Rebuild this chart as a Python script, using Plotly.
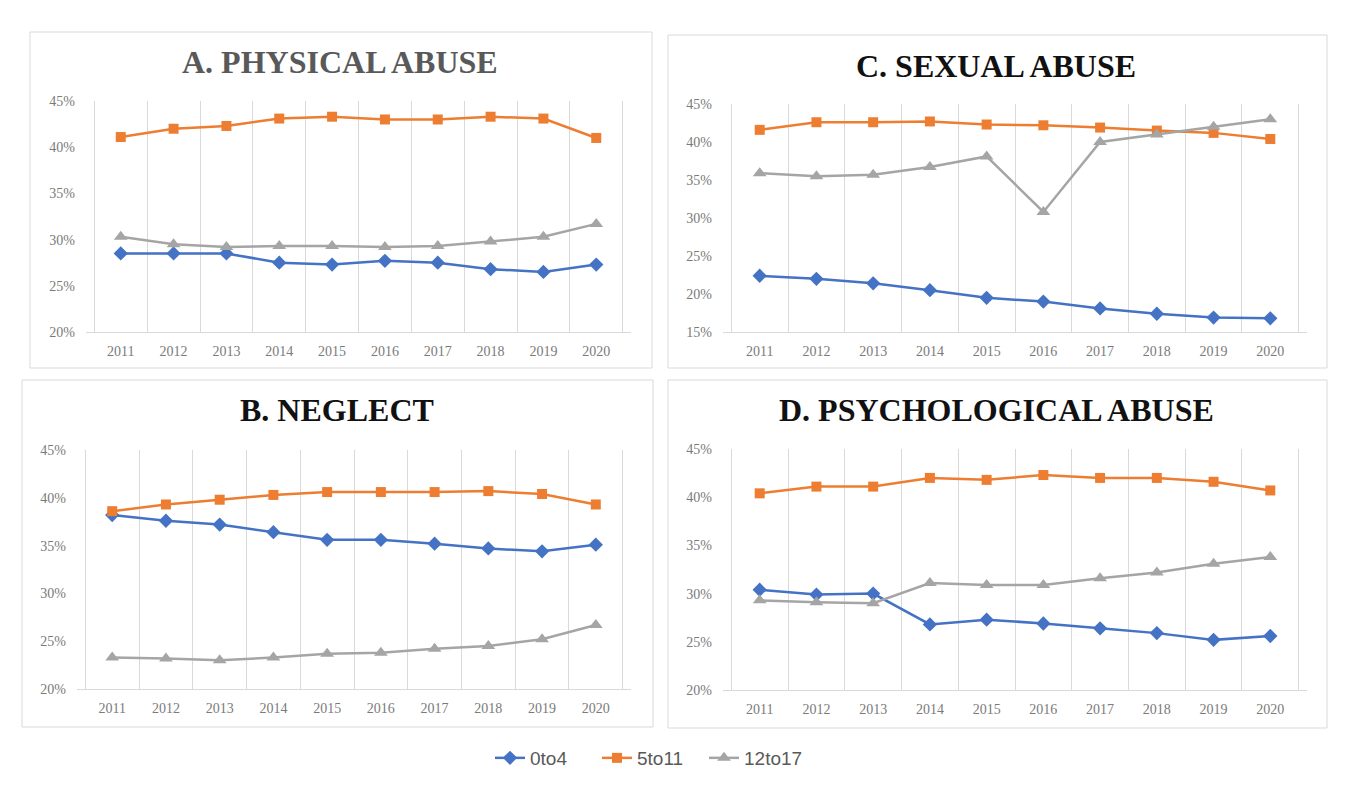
import plotly.graph_objects as go

years = [str(y) for y in range(2011, 2021)]
groups = ["0to4", "5to11", "12to17"]

# percentages
physical_0to4 = [28.5, 28.5, 28.5, 27.5, 27.3, 27.7, 27.5, 26.8, 26.5, 27.3]
physical_5to11 = [41.1, 42.0, 42.3, 43.1, 43.3, 43.0, 43.0, 43.3, 43.1, 41.0]
physical_12to17 = [30.3, 29.5, 29.2, 29.3, 29.3, 29.2, 29.3, 29.8, 30.3, 31.7]

neglect_0to4 = [38.2, 37.6, 37.2, 36.4, 35.6, 35.6, 35.2, 34.7, 34.4, 35.1]
neglect_5to11 = [38.6, 39.3, 39.8, 40.3, 40.6, 40.6, 40.6, 40.7, 40.4, 39.3]
neglect_12to17 = [23.3, 23.2, 23.0, 23.3, 23.7, 23.8, 24.2, 24.5, 25.2, 26.7]

sexual_0to4 = [22.4, 22.0, 21.4, 20.5, 19.5, 19.0, 18.1, 17.4, 16.9, 16.8]
sexual_5to11 = [41.6, 42.6, 42.6, 42.7, 42.3, 42.2, 41.9, 41.5, 41.2, 40.4]
sexual_12to17 = [35.9, 35.5, 35.7, 36.7, 38.1, 30.8, 40.0, 41.0, 42.0, 43.0]

psych_0to4 = [30.4, 29.9, 30.0, 26.8, 27.3, 26.9, 26.4, 25.9, 25.2, 25.6]
psych_5to11 = [40.4, 41.1, 41.1, 42.0, 41.8, 42.3, 42.0, 42.0, 41.6, 40.7]
psych_12to17 = [29.3, 29.1, 29.0, 31.1, 30.9, 30.9, 31.6, 32.2, 33.1, 33.8]

colors = ["#4472C4", "#ED7D31", "#A5A5A5"]
symbols = ["diamond", "square", "triangle-up"]
sizes = [11, 10, 12]

W, H = 1350, 800
OFF = 8  # page body margin
SERIF = "Liberation Serif, Times New Roman, serif"
SANS = "Liberation Sans, Arial, sans-serif"


def px_x(v):
    return (v - OFF) / W


def px_y(v):
    return 1 - (v - OFF) / H


# panel: (title, data, axis no, x-domain px, y-domain px, y range, border px, title pos, title colour)
panels = [
    ("A. PHYSICAL ABUSE", [physical_0to4, physical_5to11, physical_12to17], 1,
     (86, 631), (101, 332), (20, 45), (30, 32, 652, 368), (340, 62), "#595959"),
    ("C. SEXUAL ABUSE", [sexual_0to4, sexual_5to11, sexual_12to17], 2,
     (723, 1307), (104, 332), (15, 45), (668, 35, 1327, 368), (996, 66), "#111111"),
    ("B. NEGLECT", [neglect_0to4, neglect_5to11, neglect_12to17], 3,
     (77, 631), (450, 689), (20, 45), (22, 380, 653, 727), (337, 410), "#111111"),
    ("D. PSYCHOLOGICAL ABUSE", [psych_0to4, psych_5to11, psych_12to17], 4,
     (723, 1307), (449, 690), (20, 45), (668, 380, 1327, 728), (996, 410), "#111111"),
]

fig = go.Figure()
shapes = []
annotations = []

for title, data, n, xd, yd, yr, box, tpos, tcol in panels:
    sfx = "" if n == 1 else str(n)
    for i, g in enumerate(groups):
        fig.add_trace(go.Scatter(
            x=years, y=data[i], name=g, mode="lines+markers",
            line=dict(color=colors[i], width=2.5),
            marker=dict(symbol=symbols[i], size=sizes[i], color=colors[i]),
            showlegend=(n == 1),
            xaxis="x" + sfx, yaxis="y" + sfx,
        ))
    yticks = list(range(yr[0], yr[1] + 1, 5))
    fig.layout["xaxis" + sfx] = dict(
        domain=[px_x(xd[0]), px_x(xd[1])], anchor="y" + sfx,
        type="category", tickson="boundaries", showgrid=True,
        gridcolor="#d9d9d9", gridwidth=1, showline=True, linecolor="#d9d9d9",
        ticks="", ticklabelstandoff=6, automargin=False,
        tickfont=dict(family=SERIF, size=14, color="#7a7a7a"),
        zeroline=False, fixedrange=True,
    )
    fig.layout["yaxis" + sfx] = dict(
        domain=[px_y(yd[1]), px_y(yd[0])], anchor="x" + sfx,
        range=list(yr), tickmode="array", tickvals=yticks,
        ticktext=[f"{v}%" for v in yticks],
        showgrid=False, zeroline=False, showline=False, ticks="",
        ticklabelstandoff=10, automargin=False,
        tickfont=dict(family=SERIF, size=14, color="#7a7a7a"), fixedrange=True,
    )
    shapes.append(dict(type="rect", xref="paper", yref="paper",
                       x0=px_x(box[0]), x1=px_x(box[2]),
                       y0=px_y(box[3]), y1=px_y(box[1]),
                       line=dict(color="#d9d9d9", width=1)))
    annotations.append(dict(text="<b>" + title + "</b>", xref="paper", yref="paper",
                            x=px_x(tpos[0]), y=px_y(tpos[1]),
                            xanchor="center", yanchor="middle", showarrow=False,
                            font=dict(family=SERIF, size=32, color=tcol)))

fig.update_layout(
    width=W, height=H,
    margin=dict(l=0, r=0, t=0, b=0, autoexpand=False),
    paper_bgcolor="white", plot_bgcolor="white",
    shapes=shapes, annotations=annotations,
    legend=dict(orientation="h", x=px_x(490), y=px_y(758), xanchor="left",
                yanchor="middle", font=dict(family=SANS, size=19, color="#595959"),
                entrywidth=62, entrywidthmode="pixels"),
)

fig.write_html("out.html")
